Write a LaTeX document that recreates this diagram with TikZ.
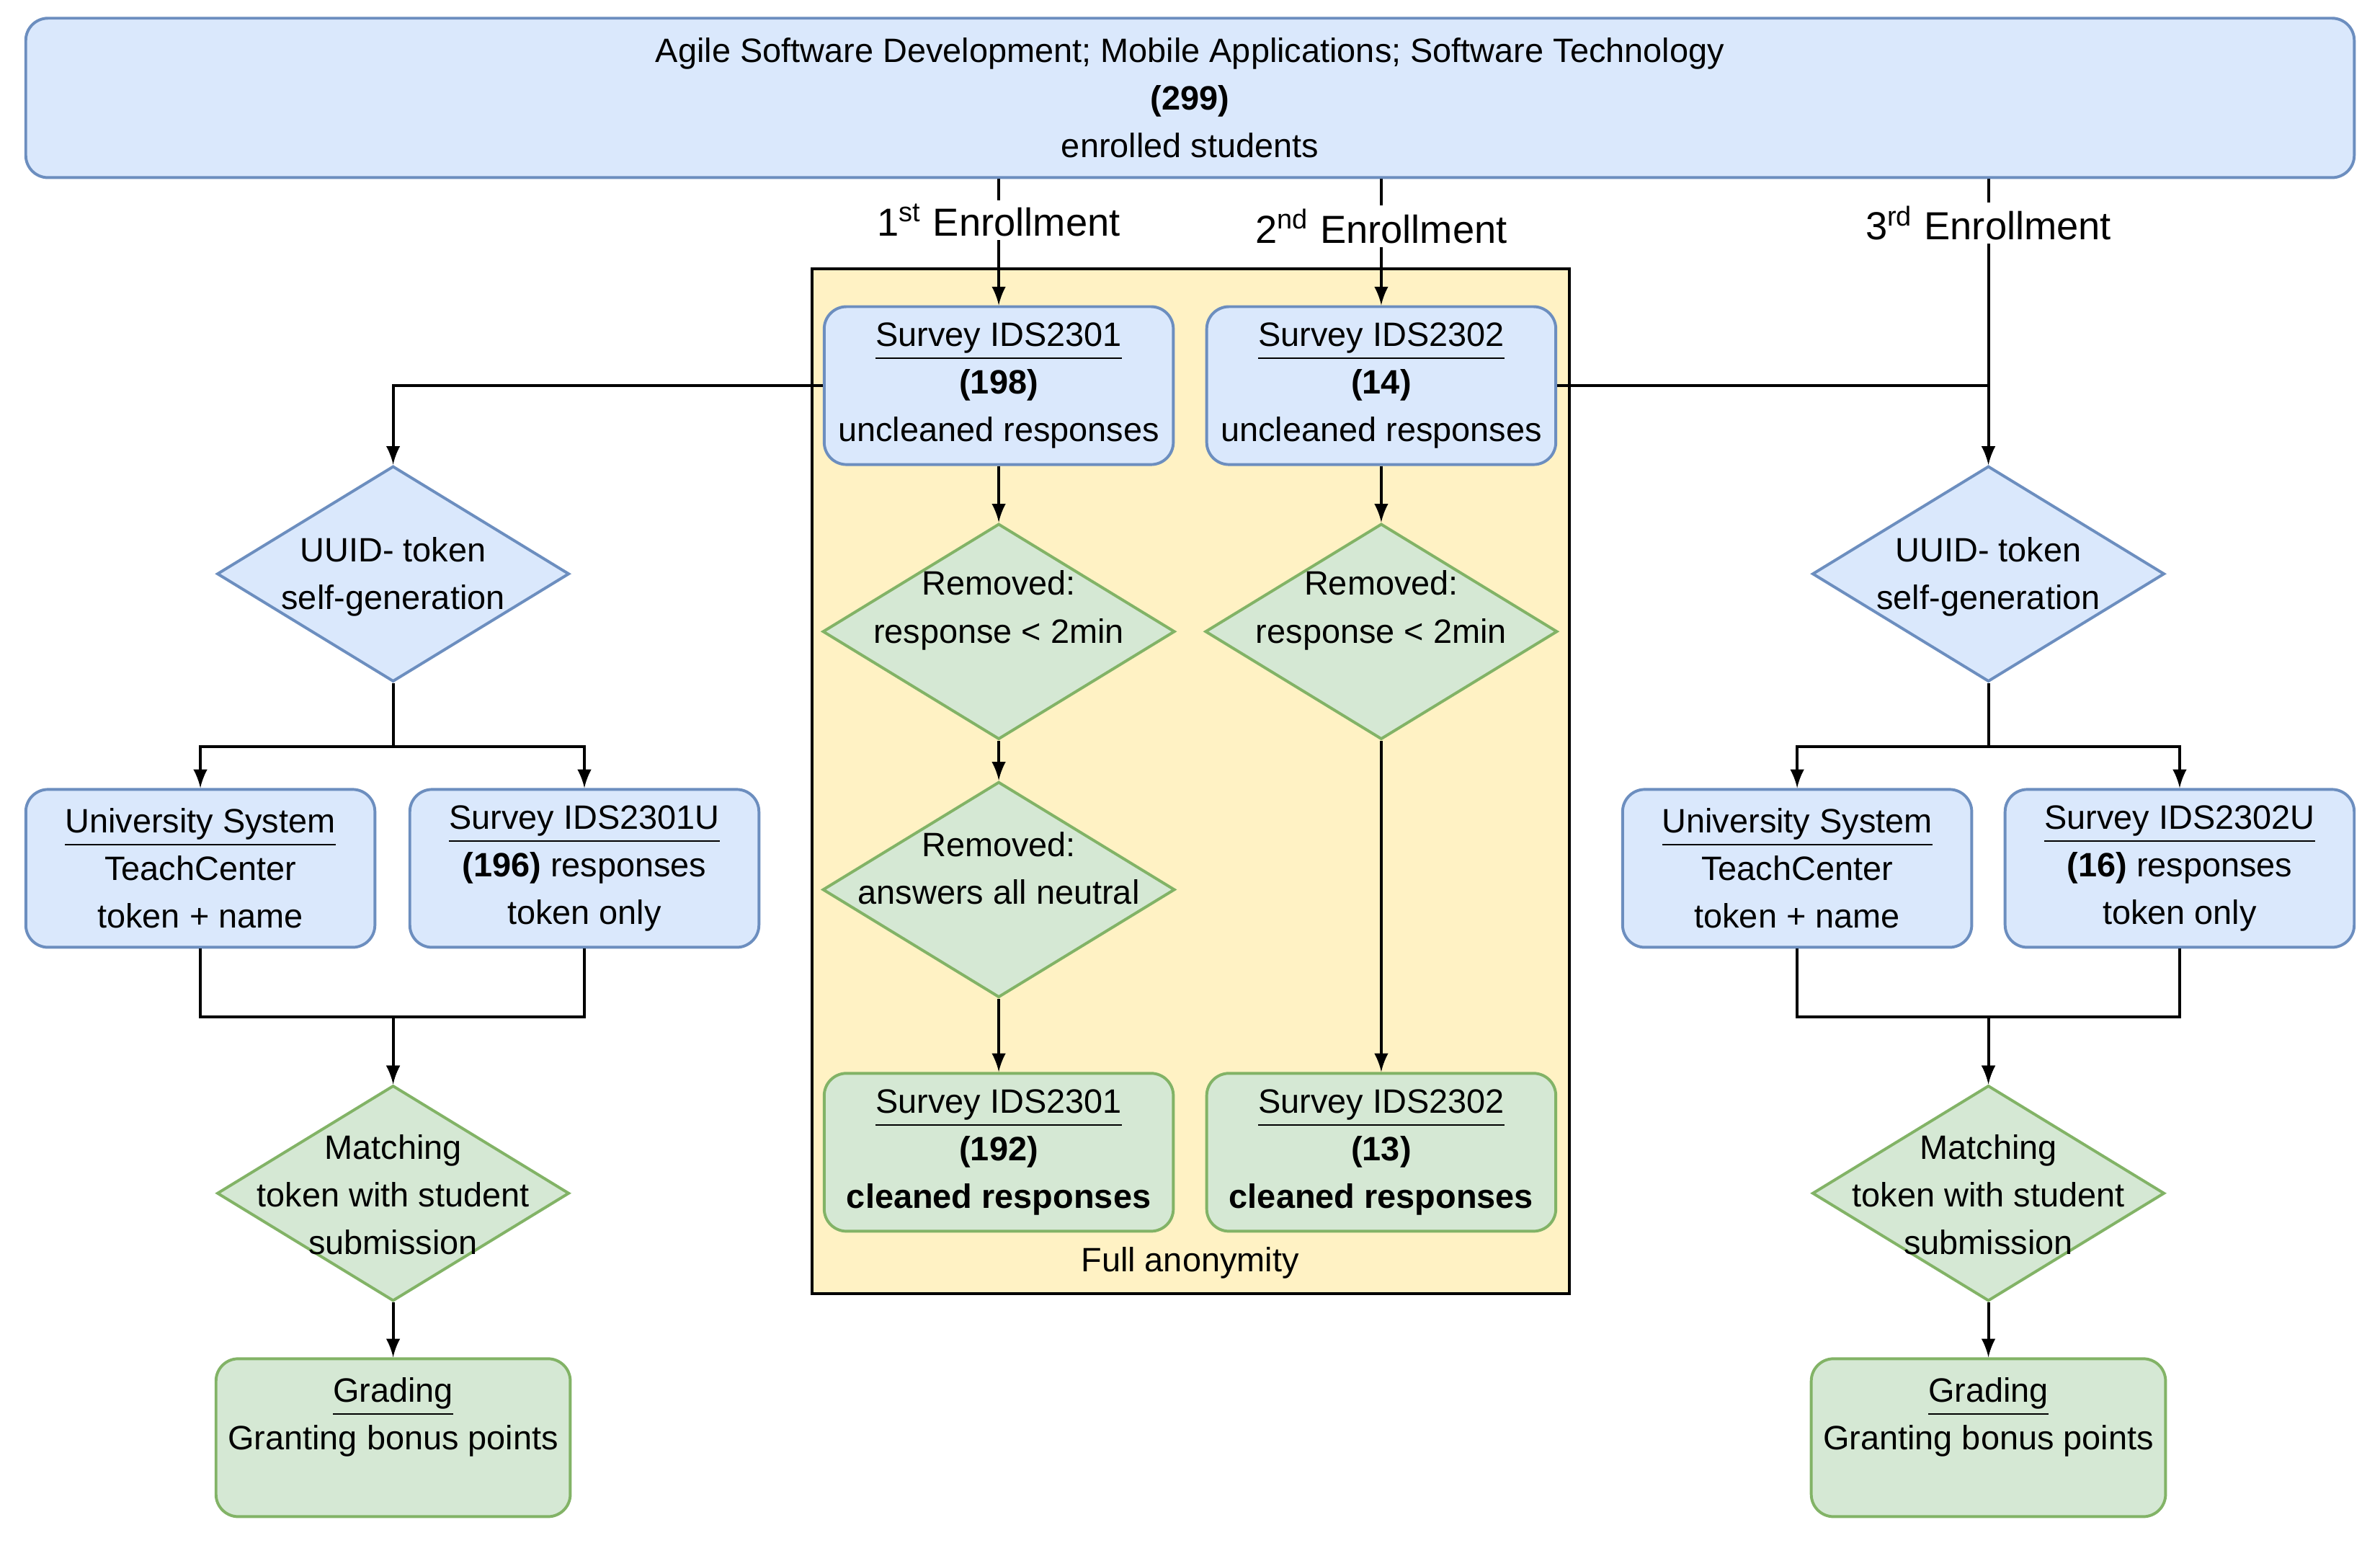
\documentclass[tikz,border=0pt]{standalone}
\usepackage{fontspec}
\setmainfont{Liberation Sans}
\usetikzlibrary{arrows, shapes, positioning}
\definecolor{bluefill}{HTML}{DAE8FC}
\definecolor{bluedraw}{HTML}{6C8EBF}
\definecolor{greenfill}{HTML}{D5E8D4}
\definecolor{greendraw}{HTML}{82B366}
\definecolor{yellowfill}{HTML}{FFF2C4}
\tikzset{
  box/.style={draw, rectangle, rounded corners=0.22cm, line width=0.8pt, minimum width=3.45cm, minimum height=1.56cm, align=center, font=\fontsize{9.5}{13.4}\selectfont},
  bbox/.style={box, fill=bluefill, draw=bluedraw},
  gbox/.style={box, fill=greenfill, draw=greendraw},
  dia/.style={draw, diamond, line width=0.8pt, minimum width=3.48cm, minimum height=2.13cm, inner sep=0pt},
  bdia/.style={dia, fill=bluefill, draw=bluedraw},
  gdia/.style={dia, fill=greenfill, draw=greendraw},
  dtext/.style={align=center, font=\fontsize{9.5}{13.4}\selectfont},
  enr/.style={fill=white, inner sep=1pt, font=\fontsize{11}{13}\selectfont},
  arr/.style={-latex, line width=0.8pt}
}
\begin{document}
\begin{tikzpicture}[x=0.015cm,y=-0.015cm]
\useasboundingbox (0,0) rectangle (1568,1016);
\node[draw, fill=yellowfill, line width=0.8pt, minimum width=7.485cm, minimum height=10.125cm] (anon) at (784.5,514.5) {};
\node[font=\fontsize{9.5}{12}\selectfont] (anontext) at (784,832) {Full anonymity};
\node[bbox, minimum width=23.01cm, minimum height=1.575cm] (top) at (784,64.5) {Agile Software Development; Mobile Applications; Software Technology\\\textbf{(299)}\\enrolled students};
% middle column
\node[bbox] (s1) at (658,254) {\underline{Survey IDS2301}\\\textbf{(198)}\\uncleaned responses};
\node[bbox] (s2) at (910,254) {\underline{Survey IDS2302}\\\textbf{(14)}\\uncleaned responses};
\node[gdia] (r1) at (658,416) {};
\node[dtext] at (658,402) {Removed:\\response < 2min};
\node[gdia] (r2) at (658,586) {};
\node[dtext] at (658,572) {Removed:\\answers all neutral};
\node[gdia] (r3) at (910,416) {};
\node[dtext] at (910,402) {Removed:\\response < 2min};
\node[gbox] (c1) at (658,759) {\underline{Survey IDS2301}\\\textbf{(192)}\\\textbf{cleaned responses}};
\node[gbox] (c2) at (910,759) {\underline{Survey IDS2302}\\\textbf{(13)}\\\textbf{cleaned responses}};
% left column
\node[bdia] (uL) at (259,378) {};
\node[dtext] at (259,380) {UUID- token\\self-generation};
\node[bbox] (uniL) at (132,572) {\underline{University System}\\TeachCenter\\token + name};
\node[bbox] (idsL) at (385,572) {\underline{Survey IDS2301U}\\\textbf{(196)} responses\\token only};
\node[gdia] (mL) at (259,786) {};
\node[dtext] at (259,787) {Matching\\token with student\\submission};
\node[gbox] (gL) at (259,947) {\underline{Grading}\\Granting bonus points\\\phantom{x}};
% right column
\node[bdia] (uR) at (1310,378) {};
\node[dtext] at (1310,380) {UUID- token\\self-generation};
\node[bbox] (uniR) at (1184,572) {\underline{University System}\\TeachCenter\\token + name};
\node[bbox] (idsR) at (1436,572) {\underline{Survey IDS2302U}\\\textbf{(16)} responses\\token only};
\node[gdia] (mR) at (1310,786) {};
\node[dtext] at (1310,787) {Matching\\token with student\\submission};
\node[gbox] (gR) at (1310,947) {\underline{Grading}\\Granting bonus points\\\phantom{x}};

\draw[arr] (s1 |- top.south) -- (s1.north);
\draw[arr] (s2 |- top.south) -- (s2.north);
\draw[arr] (uR |- top.south) -- (uR.north);
\node[enr] (e1) at (658,145) {1\textsuperscript{st} Enrollment};
\node[enr] (e2) at (910,149) {2\textsuperscript{nd} Enrollment};
\node[enr] (e3) at (1310,147) {3\textsuperscript{rd} Enrollment};
\draw[arr] (s1.west) -| (uL.north);
\draw[arr] (s2.east) -| (uR.north);
\draw[arr] (s1) -- (r1);
\draw[arr] (r1) -- (r2);
\draw[arr] (r2) -- (c1);
\draw[arr] (s2) -- (r3);
\draw[arr] (r3) -- (c2);
\draw[arr] (uL.south) -- ++(0,42) -| (uniL.north);
\draw[arr] (uL.south) -- ++(0,42) -| (idsL.north);
\draw[arr] (uniL.south) -- ++(0,45) -| (mL.north);
\draw[arr] (idsL.south) -- ++(0,45) -| (mL.north);
\draw[arr] (mL) -- (gL);
\draw[arr] (uR.south) -- ++(0,42) -| (uniR.north);
\draw[arr] (uR.south) -- ++(0,42) -| (idsR.north);
\draw[arr] (uniR.south) -- ++(0,45) -| (mR.north);
\draw[arr] (idsR.south) -- ++(0,45) -| (mR.north);
\draw[arr] (mR) -- (gR);
\end{tikzpicture}
\end{document}
